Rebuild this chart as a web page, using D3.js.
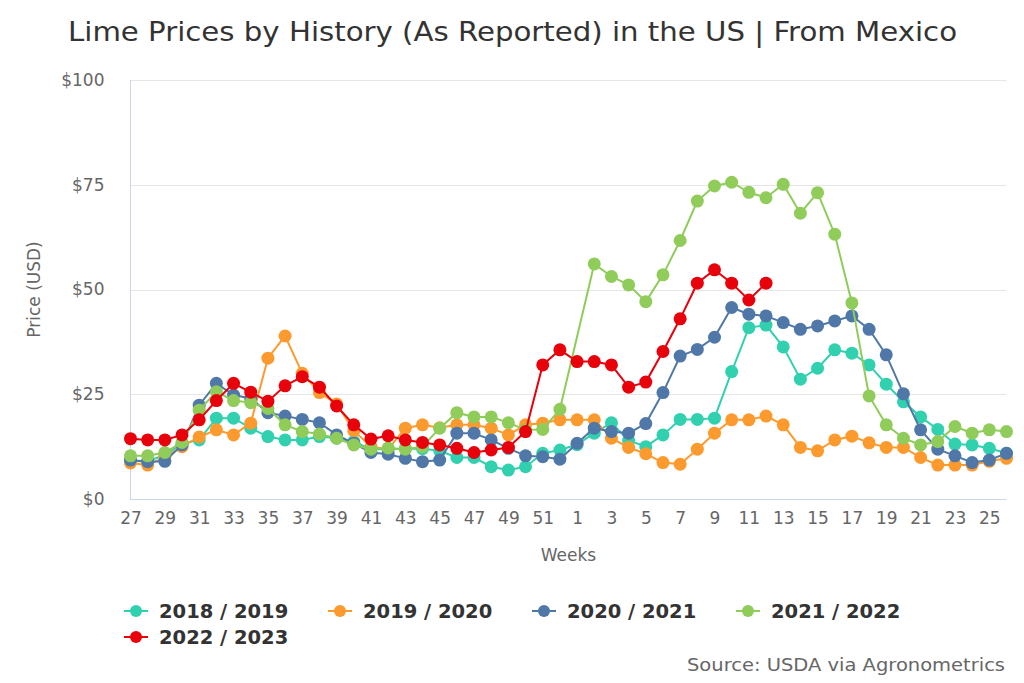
<!DOCTYPE html>
<html>
<head>
<meta charset="utf-8">
<script src="https://cdn.jsdelivr.net/npm/d3@7"></script>
<style>
  html, body { margin: 0; padding: 0; background: #fff; }
  svg { display: block; font-family: "DejaVu Sans", sans-serif; }
</style>
</head>
<body>
<svg id="chart" width="1024" height="683"></svg>
<script>
const weeks = [27,28,29,30,31,32,33,34,35,36,37,38,39,40,41,42,43,44,45,46,47,48,49,50,51,52,
               1,2,3,4,5,6,7,8,9,10,11,12,13,14,15,16,17,18,19,20,21,22,23,24,25,26];
const tickLabels = weeks.filter((w, i) => i % 2 === 0);
const yTicks = [0, 25, 50, 75, 100];
const seriesNames = ["2018 / 2019", "2019 / 2020", "2020 / 2021", "2021 / 2022", "2022 / 2023"];
const seriesColors = ["#31d1b0", "#fd9a2e", "#4f78a8", "#8fcc5a", "#e8000b"];

const s2018 = [9.0,9.0,10.5,13.2,14.1,19.3,19.3,16.9,14.9,14.1,14.1,14.9,14.5,13.7,11.9,11.9,12.0,12.0,11.5,9.9,9.9,7.7,6.9,7.7,10.9,11.7,
               13.0,15.7,18.2,14.0,12.5,15.3,19.0,19.0,19.3,30.4,40.9,41.5,36.3,28.6,31.2,35.6,34.8,32.0,27.4,23.2,19.6,16.6,13.1,12.9,12.1,10.9];
const s2019 = [8.6,8.1,10.0,12.5,14.8,16.5,15.3,18.1,33.6,38.9,30.0,25.4,22.7,16.3,12.5,11.9,16.9,17.7,17.0,17.7,17.7,16.9,15.3,17.7,18.1,18.9,
               18.9,18.9,14.5,12.3,10.8,8.7,8.3,11.9,15.7,18.9,18.9,19.8,17.7,12.3,11.5,14.1,15.0,13.4,12.3,12.3,9.9,8.1,8.1,8.1,9.0,9.7];
const s2020 = [9.3,8.9,9.0,12.9,22.4,27.6,24.8,24.0,20.6,19.8,19.0,18.2,15.3,13.3,11.1,10.7,9.7,8.9,9.3,15.7,15.7,14.1,12.1,10.3,10.1,9.5,
               13.3,16.9,16.1,15.7,18.0,25.4,34.1,35.7,38.6,45.7,44.1,43.7,42.1,40.5,41.3,42.5,43.7,40.5,34.4,25.1,16.5,11.9,10.3,8.7,9.3,10.9];
const s2021 = [10.3,10.3,11.1,13.5,21.2,25.6,23.5,23.0,21.6,17.7,16.1,15.5,14.5,12.9,11.9,12.2,11.9,12.5,16.9,20.6,19.6,19.6,18.2,16.5,16.6,21.4,
               null,56.1,53.1,51.1,47.1,53.5,61.7,71.1,74.7,75.6,73.2,71.9,75.1,68.2,73.1,63.2,46.8,24.6,17.7,14.5,12.9,13.7,17.3,15.7,16.5,16.1];
const s2022 = [14.4,14.1,14.1,15.3,18.9,23.5,27.6,25.5,23.3,27.0,29.2,26.7,22.2,17.7,14.3,15.1,14.1,13.5,12.9,12.1,11.1,11.7,12.3,16.1,32.0,35.6,
               32.8,32.8,32.0,26.7,27.9,35.2,43.0,51.5,54.7,51.5,47.5,51.5,null,null,null,null,null,null,null,null,null,null,null,null,null,null];
const seriesValues = [s2018, s2019, s2020, s2021, s2022];

const svg = d3.select("#chart");
const plot = { left: 130.5, right: 1006.5, top: 80, bottom: 499 };

const x = d3.scalePoint().domain(weeks).range([plot.left, plot.right]);
const y = d3.scaleLinear().domain([0, 100]).range([plot.bottom, plot.top]);

// title
svg.append("text")
  .attr("x", 512.5).attr("y", 41)
  .attr("text-anchor", "middle")
  .attr("font-size", 27)
  .attr("fill", "#333333")
  .attr("textLength", 889).attr("lengthAdjust", "spacingAndGlyphs")
  .text("Lime Prices by History (As Reported) in the US | From Mexico");

// grid
svg.append("g").selectAll("line").data(yTicks).join("line")
  .attr("x1", plot.left - 0.5).attr("x2", plot.right)
  .attr("y1", d => Math.round(y(d)) + 0.5).attr("y2", d => Math.round(y(d)) + 0.5)
  .attr("stroke", "#e6e6e6").attr("stroke-width", 1);

// y axis
const yAxis = d3.axisLeft(y).tickValues(yTicks).tickSize(0).tickPadding(26).tickFormat(d => "$" + d);
const gy = svg.append("g").attr("transform", `translate(${plot.left},0)`).call(yAxis);
gy.select(".domain").remove();
gy.selectAll("text").attr("font-size", 17).attr("fill", "#666666").attr("font-family", "DejaVu Sans");
svg.append("line").attr("x1", plot.left).attr("x2", plot.left).attr("y1", plot.top).attr("y2", plot.bottom)
  .attr("stroke", "#ccd6eb").attr("stroke-width", 1);

// x axis
const xAxis = d3.axisBottom(x).tickValues(tickLabels).tickSize(0).tickPadding(13);
const gx = svg.append("g").attr("transform", `translate(0,${plot.bottom})`).call(xAxis);
gx.select(".domain").remove();
gx.selectAll("text").attr("font-size", 17).attr("fill", "#666666").attr("font-family", "DejaVu Sans");
svg.append("line").attr("x1", plot.left - 0.5).attr("x2", plot.right).attr("y1", plot.bottom + 0.5).attr("y2", plot.bottom + 0.5)
  .attr("stroke", "#ccd6eb").attr("stroke-width", 1);

// axis titles
svg.append("text")
  .attr("transform", `translate(40,${(plot.top + plot.bottom) / 2}) rotate(-90)`)
  .attr("text-anchor", "middle")
  .attr("font-size", 17).attr("fill", "#666666")
  .text("Price (USD)");
svg.append("text")
  .attr("x", (plot.left + plot.right) / 2).attr("y", 561)
  .attr("text-anchor", "middle")
  .attr("font-size", 17).attr("fill", "#666666")
  .text("Weeks");

// series
const line = d3.line()
  .x(d => x(d.w)).y(d => y(d.v));

seriesValues.forEach((vals, si) => {
  const pts = weeks.map((w, i) => ({ w, v: vals[i] })).filter(d => d.v !== null);
  const g = svg.append("g");
  g.append("path").datum(pts)
    .attr("d", line)
    .attr("fill", "none")
    .attr("stroke", seriesColors[si])
    .attr("stroke-width", 2);
  g.selectAll("circle").data(pts).join("circle")
    .attr("cx", d => x(d.w)).attr("cy", d => y(d.v))
    .attr("r", 6.5)
    .attr("fill", seriesColors[si]);
});

// legend
const legend = svg.append("g");
seriesNames.forEach((name, i) => {
  const row = i < 4 ? 0 : 1;
  const col = i < 4 ? i : 0;
  const lx = 124 + col * 204;
  const ly = row === 0 ? 611 : 637;
  const item = legend.append("g");
  item.append("line").attr("x1", lx).attr("x2", lx + 24).attr("y1", ly).attr("y2", ly)
    .attr("stroke", seriesColors[i]).attr("stroke-width", 2);
  item.append("circle").attr("cx", lx + 12).attr("cy", ly).attr("r", 6).attr("fill", seriesColors[i]);
  item.append("text").attr("x", lx + 35).attr("y", ly).attr("dy", "0.36em")
    .attr("font-size", 19.5).attr("font-weight", "bold").attr("fill", "#333333")
    .text(name);
});

// source
svg.append("text")
  .attr("x", 1005).attr("y", 671)
  .attr("text-anchor", "end")
  .attr("font-size", 18.5).attr("fill", "#666666")
  .attr("textLength", 318).attr("lengthAdjust", "spacingAndGlyphs")
  .text("Source: USDA via Agronometrics");
</script>
</body>
</html>
